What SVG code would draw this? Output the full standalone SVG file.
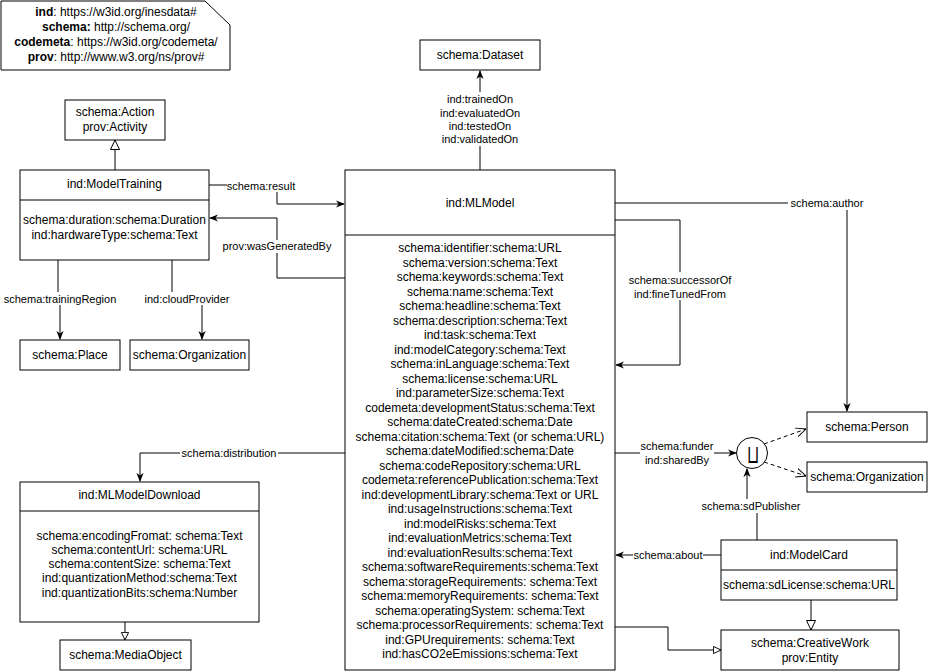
<svg xmlns="http://www.w3.org/2000/svg" width="931" height="671" viewBox="0 0 931 671">
<style>
.box{fill:#fff;stroke:#000;stroke-width:1}
.t{font-family:"Liberation Sans",Arial,sans-serif;font-size:12px;fill:#000;text-anchor:middle}
.l{font-family:"Liberation Sans",Arial,sans-serif;font-size:11px;fill:#000;text-anchor:middle}
.e{fill:none;stroke:#000;stroke-width:1}
.bg{fill:#fff;stroke:none}
</style>
<defs>
<marker id="arr" viewBox="0 0 10 10" refX="9" refY="5" markerWidth="9" markerHeight="9" markerUnits="userSpaceOnUse" orient="auto"><path d="M0,1 L10,5 L0,9 L3,5 Z" fill="#000"/></marker>
<marker id="tri" viewBox="0 0 10 10" refX="10" refY="5" markerWidth="10" markerHeight="10" markerUnits="userSpaceOnUse" orient="auto"><path d="M0.5,0.5 L10,5 L0.5,9.5 Z" fill="#fff" stroke="#000"/></marker>
<marker id="tri2" viewBox="0 0 10 10" refX="10" refY="5" markerWidth="8" markerHeight="8" markerUnits="userSpaceOnUse" orient="auto"><path d="M0.5,0.5 L10,5 L0.5,9.5 Z" fill="#fff" stroke="#000" stroke-width="1.2"/></marker>
<marker id="open" viewBox="0 0 10 10" refX="10" refY="5" markerWidth="10" markerHeight="10" markerUnits="userSpaceOnUse" orient="auto"><path d="M0,0.5 L10,5 L0,9.5" fill="none" stroke="#000"/></marker>
</defs>

<g id="note">
<path class="box" d="M1,1 H205 L230,25 V70 H1 Z"/>
<text class="t" x="116" y="16"><tspan font-weight="bold">ind</tspan>: https://w3id.org/inesdata#</text>
<text class="t" x="116" y="31"><tspan font-weight="bold">schema:</tspan> http://schema.org/</text>
<text class="t" x="116" y="46"><tspan font-weight="bold">codemeta</tspan>: https://w3id.org/codemeta/</text>
<text class="t" x="116" y="61"><tspan font-weight="bold">prov</tspan>: http://www.w3.org/ns/prov#</text>
</g>

<g id="connectors">
<path class="e" d="M115,170 V140" marker-end="url(#tri)"/>
<path class="e" d="M209,185 H277 V204 H344" marker-end="url(#arr)"/>
<path class="e" d="M345,278 H277 V218 H210" marker-end="url(#arr)"/>
<path class="e" d="M58,260 V299 H60 V339" marker-end="url(#arr)"/>
<path class="e" d="M172,260 V299 H202 V339" marker-end="url(#arr)"/>
<path class="e" d="M480,170 V71" marker-end="url(#arr)"/>
<path class="e" d="M615,203 H847 V411" marker-end="url(#arr)"/>
<path class="e" d="M615,220 H680 V365 H616" marker-end="url(#arr)"/>
<path class="e" d="M615,453 H736" marker-end="url(#arr)"/>
<path class="e" d="M764,444 L806,429" stroke-dasharray="4,3" marker-end="url(#open)"/>
<path class="e" d="M764,462 L806,476" stroke-dasharray="4,3" marker-end="url(#open)"/>
<path class="e" d="M757,540 V506 H747 V469" marker-end="url(#arr)"/>
<path class="e" d="M721,555 H616" marker-end="url(#arr)"/>
<path class="e" d="M811,600 V630" marker-end="url(#tri)"/>
<path class="e" d="M615,627 H668 V650 H721" marker-end="url(#tri2)"/>
<path class="e" d="M345,453 H140 V481" marker-end="url(#arr)"/>
<path class="e" d="M125,622 V640" marker-end="url(#tri2)"/>

<rect class="bg" x="227" y="179" width="69" height="13"/>
<text class="l" x="261" y="190">schema:result</text>
<rect class="bg" x="223" y="240" width="108" height="13"/>
<text class="l" x="277" y="250">prov:wasGeneratedBy</text>
<rect class="bg" x="3" y="292" width="114" height="13"/>
<text class="l" x="60" y="303">schema:trainingRegion</text>
<rect class="bg" x="144" y="292" width="87" height="13"/>
<text class="l" x="187" y="303">ind:cloudProvider</text>
<rect class="bg" x="438" y="92" width="84" height="54"/>
<text class="l" x="480" y="103">ind:trainedOn</text>
<text class="l" x="480" y="117">ind:evaluatedOn</text>
<text class="l" x="480" y="130">ind:testedOn</text>
<text class="l" x="480" y="143">ind:validatedOn</text>
<rect class="bg" x="788" y="197" width="78" height="13"/>
<text class="l" x="827" y="207">schema:author</text>
<rect class="bg" x="627" y="272" width="106" height="28"/>
<text class="l" x="680" y="284">schema:successorOf</text>
<text class="l" x="680" y="298">ind:fineTunedFrom</text>
<rect class="bg" x="640" y="439" width="74" height="28"/>
<text class="l" x="677" y="450">schema:funder</text>
<text class="l" x="677" y="464">ind:sharedBy</text>
<rect class="bg" x="700" y="499" width="102" height="14"/>
<text class="l" x="751" y="510">schema:sdPublisher</text>
<rect class="bg" x="633" y="549" width="70" height="13"/>
<text class="l" x="668" y="559">schema:about</text>
<rect class="bg" x="180" y="447" width="98" height="13"/>
<text class="l" x="229" y="457">schema:distribution</text>
</g>

<g id="action">
<rect class="box" x="65" y="100" width="100" height="40"/>
<text class="t" x="115" y="116">schema:Action</text>
<text class="t" x="115" y="131">prov:Activity</text>
</g>

<g id="modelTraining">
<rect class="box" x="20" y="170" width="189" height="90"/>
<line class="e" x1="20" y1="200" x2="209" y2="200"/>
<text class="t" x="114.5" y="188">ind:ModelTraining</text>
<text class="t" x="114.5" y="224">schema:duration:schema:Duration</text>
<text class="t" x="114.5" y="239">ind:hardwareType:schema:Text</text>
</g>

<g id="place">
<rect class="box" x="20" y="340" width="100" height="30"/>
<text class="t" x="70" y="359">schema:Place</text>
</g>

<g id="organization1">
<rect class="box" x="130" y="340" width="119" height="30"/>
<text class="t" x="189.5" y="359">schema:Organization</text>
</g>

<g id="dataset">
<rect class="box" x="420" y="40" width="120" height="30"/>
<text class="t" x="480" y="59">schema:Dataset</text>
</g>

<g id="mlModel">
<rect class="box" x="345" y="170" width="270" height="500"/>
<line class="e" x1="345" y1="235" x2="615" y2="235"/>
<text class="t" x="480" y="207">ind:MLModel</text>
<text class="t" x="480" y="252">schema:identifier:schema:URL</text>
<text class="t" x="480" y="266.5">schema:version:schema:Text</text>
<text class="t" x="480" y="281">schema:keywords:schema:Text</text>
<text class="t" x="480" y="295.5">schema:name:schema:Text</text>
<text class="t" x="480" y="310">schema:headline:schema:Text</text>
<text class="t" x="480" y="324.5">schema:description:schema:Text</text>
<text class="t" x="480" y="339">ind:task:schema:Text</text>
<text class="t" x="480" y="353.5">ind:modelCategory:schema:Text</text>
<text class="t" x="480" y="368">schema:inLanguage:schema:Text</text>
<text class="t" x="480" y="382.5">schema:license:schema:URL</text>
<text class="t" x="480" y="397">ind:parameterSize:schema:Text</text>
<text class="t" x="480" y="411.5">codemeta:developmentStatus:schema:Text</text>
<text class="t" x="480" y="426">schema:dateCreated:schema:Date</text>
<text class="t" x="480" y="440.5">schema:citation:schema:Text (or schema:URL)</text>
<text class="t" x="480" y="455">schema:dateModified:schema:Date</text>
<text class="t" x="480" y="469.5">schema:codeRepository:schema:URL</text>
<text class="t" x="480" y="484">codemeta:referencePublication:schema:Text</text>
<text class="t" x="480" y="498.5">ind:developmentLibrary:schema:Text or URL</text>
<text class="t" x="480" y="513">ind:usageInstructions:schema:Text</text>
<text class="t" x="480" y="527.5">ind:modelRisks:schema:Text</text>
<text class="t" x="480" y="542">ind:evaluationMetrics:schema:Text</text>
<text class="t" x="480" y="556.5">ind:evaluationResults:schema:Text</text>
<text class="t" x="480" y="571">schema:softwareRequirements:schema:Text</text>
<text class="t" x="480" y="585.5">schema:storageRequirements: schema:Text</text>
<text class="t" x="480" y="600">schema:memoryRequirements: schema:Text</text>
<text class="t" x="480" y="614.5">schema:operatingSystem: schema:Text</text>
<text class="t" x="480" y="629">schema:processorRequirements: schema:Text</text>
<text class="t" x="480" y="643.5">ind:GPUrequirements: schema:Text</text>
<text class="t" x="480" y="658">ind:hasCO2eEmissions:schema:Text</text>
</g>

<g id="person">
<rect class="box" x="807" y="412" width="120" height="30"/>
<text class="t" x="867" y="431">schema:Person</text>
</g>

<g id="organization2">
<rect class="box" x="807" y="462" width="120" height="30"/>
<text class="t" x="867" y="481">schema:Organization</text>
</g>

<g id="union">
<circle class="box" cx="752" cy="453" r="15.5"/>
<text x="0" y="0" transform="translate(753,463) scale(0.95,1.5)" font-family="'DejaVu Sans',sans-serif" font-size="17" text-anchor="middle" fill="#000">⊔</text>
</g>

<g id="modelCard">
<rect class="box" x="721" y="540" width="176" height="60"/>
<line class="e" x1="721" y1="570" x2="897" y2="570"/>
<text class="t" x="809" y="559">ind:ModelCard</text>
<text class="t" x="809" y="589">schema:sdLicense:schema:URL</text>
</g>

<g id="creativeWork">
<rect class="box" x="721" y="630" width="178" height="40"/>
<text class="t" x="810" y="647">schema:CreativeWork</text>
<text class="t" x="810" y="662">prov:Entity</text>
</g>

<g id="mlModelDownload">
<rect class="box" x="20" y="482" width="239" height="140"/>
<line class="e" x1="20" y1="511" x2="259" y2="511"/>
<text class="t" x="139.5" y="499">ind:MLModelDownload</text>
<text class="t" x="139.5" y="540">schema:encodingFromat: schema:Text</text>
<text class="t" x="139.5" y="554">schema:contentUrl: schema:URL</text>
<text class="t" x="139.5" y="568">schema:contentSize: schema:Text</text>
<text class="t" x="139.5" y="582">ind:quantizationMethod:schema:Text</text>
<text class="t" x="139.5" y="597">ind:quantizationBits:schema:Number</text>
</g>

<g id="mediaObject">
<rect class="box" x="60" y="640" width="131" height="30"/>
<text class="t" x="125.5" y="659">schema:MediaObject</text>
</g>
</svg>
